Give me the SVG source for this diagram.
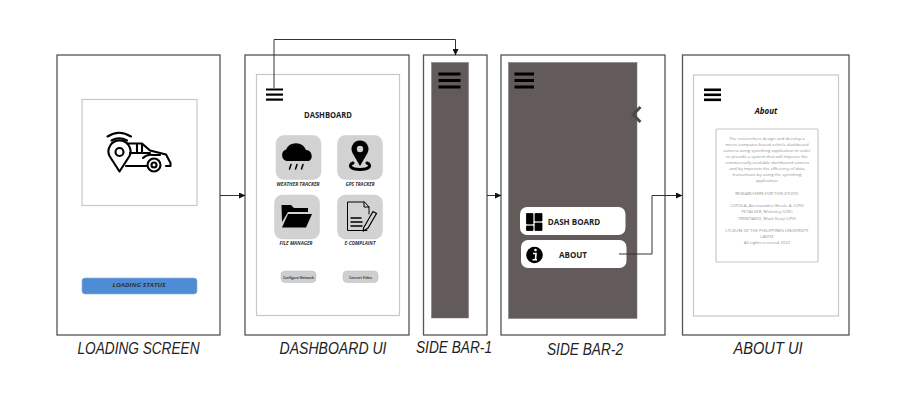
<svg xmlns="http://www.w3.org/2000/svg" width="906" height="402" viewBox="0 0 906 402">
<style>
.frame{fill:#fff;stroke:#555;stroke-width:1.3}
.inner{fill:#fff;stroke:#c8c8c8;stroke-width:1.2}
.dark{fill:#635a5a;stroke:#777;stroke-width:.5}
.conn{fill:none;stroke:#333;stroke-width:1}
.bar{fill:#000}
.tile{fill:#d2d2d2;stroke:#ccc;stroke-width:.5}
.pill{fill:#fff}
.btn{fill:#cfcfcf;stroke:#bbb;stroke-width:.5}
.ic{fill:none;stroke:#000;stroke-linecap:round;stroke-linejoin:round}
text{font-family:"Open Sans","Liberation Sans",sans-serif;text-anchor:middle}
.cap{font-family:"Liberation Sans",Arial,sans-serif;font-style:italic;font-size:16.500px;fill:#222}
.tl{font-size:5px;font-weight:700;font-style:italic;fill:#333}
.sm{font-size:4px;font-weight:700;fill:#444}
.ab{font-size:4.300px;fill:#8f8f8f}
</style>
<defs>
<marker id="arrow" markerWidth="7" markerHeight="6" refX="6" refY="3" orient="auto" markerUnits="userSpaceOnUse"><path d="M0 0L6.500 3L0 6Z" fill="#111"/></marker>
</defs>
<g id="loading-screen">
<rect class="frame" x="57" y="55" width="163" height="280"/>
<rect class="inner" x="82" y="99.500" width="115" height="106"/>
<g class="ic" stroke-width="2.100">
<path d="M119.500 171.500L109.500 156A11 11 0 1 1 129.500 156Z"/>
<circle cx="119.500" cy="152" r="4"/>
<path d="M107.500 136.500Q119 129 131 136.500M111.500 140.500Q119 136 127 140.500"/>
<path d="M127 143.500H142L150 150.500L166 154.500L170.500 163V166H166M126 166H147M137 144V153M130 153H150M142 144V153"/>
<circle cx="154" cy="165" r="6.500"/><circle cx="154" cy="165" r="2.500"/>
<path d="M143 158Q147 154 153 155H160"/>
</g>
<rect x="82" y="278" width="115" height="16" rx="3" fill="#4f8cd6" stroke="#8fb0d8" stroke-width=".6"/>
<text class="tl" x="139" y="286.500" style="font-size:6px" textLength="53" lengthAdjust="spacingAndGlyphs">LOADING STATUS</text>
</g>
<g id="dashboard-ui">
<rect class="frame" x="245" y="55" width="164" height="280"/>
<rect class="inner" x="256.500" y="74.500" width="143" height="241"/>
<rect class="bar" x="266" y="88.500" width="17" height="2"/><rect class="bar" x="266" y="93.500" width="17" height="2.200"/><rect class="bar" x="266" y="98.500" width="17" height="2.200"/>
<text x="328" y="118" style="font-size:8.500px;font-weight:700" fill="#222" textLength="48" lengthAdjust="spacingAndGlyphs">DASHBOARD</text>
<rect class="tile" x="276" y="135.500" width="45" height="44" rx="8"/>
<path d="M287 161A6 6 0 0 1 286 149.500A11 11 0 0 1 306 150A6 6 0 0 1 309 161Z" fill="#000"/>
<path d="M291 164.500L289.500 169M297 164.500L295.500 169M303 164.500L301.500 169" class="ic" stroke-width="1.500"/>
<rect class="tile" x="337.500" y="135.500" width="45" height="44" rx="8"/>
<path d="M360 166L352.500 153A8.500 8.500 0 1 1 367.500 153Z" fill="#000"/><circle cx="360" cy="149" r="3.200" fill="#d2d2d2"/>
<path d="M353 163C348 165 350 169.500 360 169.500C370 169.500 372 165 367 163" class="ic" stroke-width="3"/>
<text class="tl" x="298" y="186" textLength="43" lengthAdjust="spacingAndGlyphs">WEATHER TRACKER</text>
<text class="tl" x="360" y="186" textLength="29" lengthAdjust="spacingAndGlyphs">GPS TRACKER</text>
<rect class="tile" x="274.500" y="195" width="45" height="44" rx="8"/>
<path d="M281.500 205H291L294 208H308V212H288L282 222Z" fill="#000"/>
<path d="M288 214H312L306 227.500H282Z" fill="#000"/>
<rect class="tile" x="337.500" y="195" width="45" height="44" rx="8"/>
<path d="M367 230.500H347.500V202H364.500L369 207V214M364 202V207H369" class="ic" stroke-width="1" stroke-linecap="square"/>
<path d="M351 218H361M351 222H362M351 226H362" class="ic" stroke-width="1.500"/>
<path d="M363.500 228L373 211.500L376.500 213.500L368 228L363.500 231Z" fill="#d2d2d2" stroke="#000" stroke-width="1.200"/>
<text class="tl" x="296" y="245" textLength="33" lengthAdjust="spacingAndGlyphs">FILE MANAGER</text>
<text class="tl" x="360" y="245" textLength="31" lengthAdjust="spacingAndGlyphs">E-COMPLAINT</text>
<rect class="btn" x="281" y="271" width="35" height="11.500" rx="4"/>
<text class="sm" x="298.500" y="278.500" textLength="31" lengthAdjust="spacingAndGlyphs">Configure Network</text>
<rect class="btn" x="343" y="271" width="35" height="11.500" rx="4"/>
<text class="sm" x="360.500" y="278.500" textLength="23" lengthAdjust="spacingAndGlyphs">Convert Video</text>
</g>
<g id="side-bar-1">
<rect class="frame" x="423.500" y="55" width="63.500" height="280"/>
<rect class="dark" x="431.500" y="62.500" width="37" height="255.500"/>
<rect class="bar" x="438.500" y="72.500" width="22" height="3"/><rect class="bar" x="438.500" y="79" width="22" height="3"/><rect class="bar" x="438.500" y="85.500" width="22" height="3"/>
</g>
<g id="side-bar-2">
<rect class="frame" x="501" y="55" width="164" height="280"/>
<rect class="dark" x="508.500" y="62.500" width="128.500" height="256"/>
<rect class="bar" x="514.500" y="72.500" width="19.500" height="3"/><rect class="bar" x="514.500" y="79" width="19.500" height="3"/><rect class="bar" x="514.500" y="85.500" width="19.500" height="3"/>
<path d="M640.500 107L633 114.500L640.500 122" fill="none" stroke="#4a4a4a" stroke-width="3"/>
<rect class="pill" x="520" y="207" width="105.500" height="28" rx="7"/>
<path d="M526.500 213.500H533V224H526.500ZM535 213.500H542V221H535ZM526.500 226H533V230.500H526.500ZM535 223H542V230.500H535Z" fill="#000" stroke="#000" stroke-width=".8"/>
<text x="574" y="224.500" style="font-size:8px;font-weight:700" fill="#222">DASH BOARD</text>
<rect class="pill" x="521" y="240" width="105.500" height="28" rx="7"/>
<circle cx="534.500" cy="255" r="8.300" fill="#000"/>
<path d="M533 253.500H536L535.500 259.500M532.500 259.800H537" stroke="#fff" stroke-width="1.600" fill="none"/><circle cx="535.500" cy="250" r="1.300" fill="#fff"/>
<text x="573" y="258" style="font-size:8px;font-weight:700" fill="#222">ABOUT</text>
</g>
<g id="about-ui">
<rect class="frame" x="682.500" y="55" width="166.500" height="280"/>
<rect class="inner" x="693.500" y="75" width="145" height="241"/>
<rect class="bar" x="704" y="88.500" width="17" height="2.600"/><rect class="bar" x="704" y="93.500" width="17" height="2.600"/><rect class="bar" x="704" y="98.500" width="17" height="2.600"/>
<text x="766" y="114" style="font-size:8px;font-weight:700;font-style:italic" fill="#111">About</text>
<rect class="inner" x="716" y="129" width="102" height="133" rx="1"/>
<g class="ab">
<text x="767" y="140">The researchers design and develop a</text>
<text x="767" y="146">micro-computer based vehicle dashboard</text>
<text x="767" y="152">camera using syncthing application in order</text>
<text x="767" y="158">to provide a system that will improve the</text>
<text x="767" y="164">commercially available dashboard camera</text>
<text x="767" y="170">and by improvin the efficiency of data</text>
<text x="767" y="176">transmissio by using the syncthing</text>
<text x="767" y="182">application.</text>
<text x="767" y="195">RESEARCHERS FOR THIS STUDY:</text>
<text x="767" y="207">LOYOLA, Alecssandrei Nicole A. (CPE)</text>
<text x="767" y="213">PETALVER, Mckinley (CPE)</text>
<text x="767" y="219.500">TRENTIADO, Mark Kenji (CPE)</text>
<text x="767" y="232">LYCEUM OF THE PHILIPPINES UNIVERSITY</text>
<text x="767" y="238">CAVITE</text>
<text x="767" y="244">All rights recieved 2022</text>
</g>
</g>
<g id="connectors">
<path class="conn" d="M220 195.500H245" marker-end="url(#arrow)"/>
<path class="conn" d="M274 88V39.500H455.500V55" marker-end="url(#arrow)"/>
<path class="conn" d="M487 195.500H501" marker-end="url(#arrow)"/>
<path class="conn" d="M619 254H652V195.500H682" marker-end="url(#arrow)"/>
</g>
<g id="captions">
<text class="cap" x="138.500" y="353.500" textLength="122" lengthAdjust="spacingAndGlyphs">LOADING SCREEN</text>
<text class="cap" x="333" y="353.500" textLength="107" lengthAdjust="spacingAndGlyphs">DASHBOARD UI</text>
<text class="cap" x="454" y="352.500" textLength="76" lengthAdjust="spacingAndGlyphs">SIDE BAR-1</text>
<text class="cap" x="585" y="355" textLength="76" lengthAdjust="spacingAndGlyphs">SIDE BAR-2</text>
<text class="cap" x="768" y="354" textLength="69" lengthAdjust="spacingAndGlyphs">ABOUT UI</text>
</g>
</svg>
